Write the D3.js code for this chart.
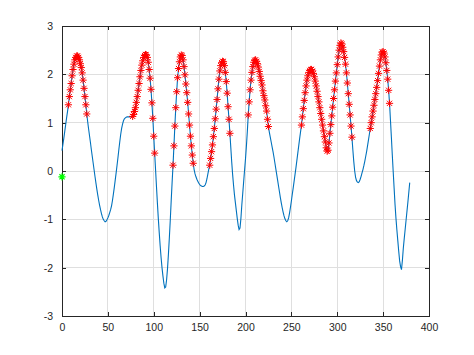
<!DOCTYPE html>
<html>
<head>
<meta charset="utf-8">
<script src="https://cdn.jsdelivr.net/npm/d3@7"></script>
<style>
  html, body { margin: 0; padding: 0; background: #ffffff; }
  svg { display: block; }
</style>
</head>
<body>
<div id="chart"></div>
<script>
// ---- data (sample index = x) ----
const signal = [
  0.42, 0.55, 0.68, 0.82, 0.96, 1.10, 1.23, 1.37, 1.54, 1.68,
  1.81, 1.97, 2.10, 2.21, 2.30, 2.35, 2.38, 2.38, 2.35, 2.30,
  2.22, 2.14, 2.03, 1.88, 1.71, 1.54, 1.37, 1.18, 1.02, 0.87,
  0.73, 0.59, 0.44, 0.30, 0.16, 0.02, -0.12, -0.25, -0.38, -0.50,
  -0.61, -0.71, -0.80, -0.88, -0.95, -1.00, -1.03, -1.05, -1.04, -1.01,
  -0.97, -0.92, -0.86, -0.80, -0.72, -0.61, -0.48, -0.34, -0.19, -0.04,
  0.12, 0.28, 0.45, 0.61, 0.76, 0.88, 0.97, 1.04, 1.08, 1.10,
  1.11, 1.12, 1.12, 1.12, 1.12, 1.12, 1.12, 1.13, 1.17, 1.23,
  1.31, 1.42, 1.54, 1.67, 1.81, 1.95, 2.08, 2.19, 2.28, 2.35,
  2.39, 2.41, 2.40, 2.35, 2.25, 2.10, 1.92, 1.69, 1.41, 1.09,
  0.72, 0.37, 0.02, -0.33, -0.67, -0.99, -1.28, -1.55, -1.79, -2.00,
  -2.17, -2.32, -2.42, -2.40, -2.25, -2.02, -1.72, -1.38, -1.02, -0.62,
  -0.24, 0.12, 0.52, 0.93, 1.31, 1.64, 1.93, 2.12, 2.26, 2.36,
  2.40, 2.39, 2.30, 2.16, 1.99, 1.80, 1.62, 1.42, 1.18, 0.95,
  0.72, 0.52, 0.33, 0.16, 0.03, -0.06, -0.12, -0.17, -0.21, -0.25,
  -0.28, -0.30, -0.31, -0.32, -0.32, -0.31, -0.29, -0.24, -0.16, -0.06,
  0.04, 0.12, 0.26, 0.40, 0.54, 0.71, 0.88, 1.08, 1.28, 1.48,
  1.70, 1.90, 2.07, 2.18, 2.24, 2.27, 2.26, 2.18, 2.04, 1.85,
  1.61, 1.33, 1.07, 0.78, 0.48, 0.18, -0.08, -0.30, -0.50, -0.66,
  -0.82, -0.98, -1.12, -1.21, -1.18, -0.98, -0.70, -0.46, -0.22, 0.02,
  0.25, 0.52, 0.82, 1.16, 1.43, 1.68, 1.88, 2.04, 2.16, 2.25,
  2.29, 2.30, 2.27, 2.22, 2.15, 2.06, 1.96, 1.87, 1.78, 1.66,
  1.56, 1.47, 1.35, 1.24, 1.07, 0.92, 0.80, 0.70, 0.60, 0.50,
  0.40, 0.29, 0.17, 0.05, -0.07, -0.19, -0.31, -0.43, -0.55, -0.66,
  -0.76, -0.85, -0.93, -0.99, -1.03, -1.05, -1.03, -0.97, -0.87, -0.75,
  -0.62, -0.48, -0.35, -0.21, -0.07, 0.07, 0.22, 0.37, 0.52, 0.67,
  0.81, 0.95, 1.12, 1.29, 1.46, 1.62, 1.76, 1.88, 1.97, 2.04,
  2.08, 2.10, 2.10, 2.07, 2.02, 1.95, 1.86, 1.76, 1.65, 1.54,
  1.43, 1.31, 1.19, 1.07, 0.95, 0.83, 0.71, 0.60, 0.48, 0.41,
  0.43, 0.58, 0.78, 0.96, 1.14, 1.32, 1.50, 1.68, 1.86, 2.03,
  2.20, 2.36, 2.50, 2.60, 2.65, 2.63, 2.56, 2.47, 2.35, 2.21,
  2.03, 1.82, 1.60, 1.38, 1.16, 0.93, 0.70, 0.44, 0.20, 0.00,
  -0.13, -0.20, -0.23, -0.24, -0.22, -0.17, -0.11, -0.04, 0.03, 0.11,
  0.20, 0.30, 0.40, 0.52, 0.64, 0.76, 0.88, 1.00, 1.12, 1.24,
  1.36, 1.48, 1.60, 1.73, 1.87, 2.02, 2.17, 2.30, 2.40, 2.46,
  2.47, 2.44, 2.36, 2.24, 2.08, 1.90, 1.67, 1.40, 1.05, 0.70,
  0.33, -0.02, -0.36, -0.70, -0.98, -1.22, -1.44, -1.66, -1.86, -1.98,
  -2.04, -1.85, -1.60, -1.40, -1.21, -1.02, -0.83, -0.64, -0.44, -0.24
];
// index ranges [start, end] of the samples marked with red asterisks
const markedRanges = [[7, 27], [77, 101], [121, 143], [161, 183], [203, 225], [261, 316], [336, 357]];
// single green marker
const greenPoint = [0, -0.12];

const xTicks = [0, 50, 100, 150, 200, 250, 300, 350, 400];
const yTicks = [-3, -2, -1, 0, 1, 2, 3];
const xDomain = [0, 400];
const yDomain = [-3, 3];

// ---- layout ----
const W = 474, H = 355;
const margin = { left: 62, right: 45, top: 26, bottom: 39 };
const iw = W - margin.left - margin.right;
const ih = H - margin.top - margin.bottom;

const svg = d3.select("#chart").append("svg")
  .attr("width", W).attr("height", H)
  .style("font-family", "Liberation Sans, Arial, Helvetica, sans-serif");

svg.append("rect").attr("width", W).attr("height", H).attr("fill", "#ffffff");

const g = svg.append("g").attr("transform", `translate(${margin.left},${margin.top})`);

const x = d3.scaleLinear().domain(xDomain).range([0, iw]);
const y = d3.scaleLinear().domain(yDomain).range([ih, 0]);

// grid
g.append("g").selectAll("line").data(xTicks.slice(1, -1)).join("line")
  .attr("x1", d => x(d)).attr("x2", d => x(d))
  .attr("y1", 0).attr("y2", ih)
  .attr("stroke", "#dfdfdf").attr("stroke-width", 1).attr("shape-rendering", "crispEdges");
g.append("g").selectAll("line").data(yTicks.slice(1, -1)).join("line")
  .attr("y1", d => y(d)).attr("y2", d => y(d))
  .attr("x1", 0).attr("x2", iw)
  .attr("stroke", "#dfdfdf").attr("stroke-width", 1).attr("shape-rendering", "crispEdges");

// axes (MATLAB-style, ticks inward, box)
const axisColor = "#262626";
function styleAxis(sel, hideText) {
  sel.select(".domain").attr("stroke", axisColor).attr("stroke-width", 1).attr("shape-rendering", "crispEdges");
  sel.selectAll(".tick line").attr("stroke", axisColor).attr("shape-rendering", "crispEdges");
  sel.selectAll(".tick text").attr("fill", axisColor).style("font-size", "10.5px");
  if (hideText) sel.selectAll(".tick text").remove();
}
const xb = g.append("g").attr("transform", `translate(0,${ih})`)
  .call(d3.axisBottom(x).tickValues(xTicks).tickSizeInner(-4).tickSizeOuter(0).tickPadding(8).tickFormat(d3.format("d")));
styleAxis(xb, false);
const xt = g.append("g")
  .call(d3.axisTop(x).tickValues(xTicks).tickSizeInner(-4).tickSizeOuter(0));
styleAxis(xt, true);
const yl = g.append("g")
  .call(d3.axisLeft(y).tickValues(yTicks).tickSizeInner(-4).tickSizeOuter(0).tickPadding(9).tickFormat(d3.format("d")));
styleAxis(yl, false);
const yr = g.append("g").attr("transform", `translate(${iw},0)`)
  .call(d3.axisRight(y).tickValues(yTicks).tickSizeInner(-4).tickSizeOuter(0));
styleAxis(yr, true);
yl.selectAll(".tick text").text(d => d < 0 ? "-" + Math.abs(d) : d);

// signal line
const line = d3.line().x((d, i) => x(i)).y(d => y(d));
g.append("path").datum(signal)
  .attr("fill", "none").attr("stroke", "#0072BD").attr("stroke-width", 1.1)
  .attr("d", line);

// asterisk marker
function asterisk(r) {
  const d = r * 0.72;
  return `M${-r},0L${r},0M0,${-r}L0,${r}M${-d},${-d}L${d},${d}M${-d},${d}L${d},${-d}`;
}
const marked = [];
markedRanges.forEach(([a, b]) => { for (let i = a; i <= b; i++) marked.push(i); });

g.append("g").selectAll("path").data(marked).join("path")
  .attr("transform", i => `translate(${x(i)},${y(signal[i])})`)
  .attr("d", asterisk(3.6))
  .attr("fill", "none").attr("stroke", "#ff0000").attr("stroke-width", 1);

g.append("path")
  .attr("transform", `translate(${x(greenPoint[0])},${y(greenPoint[1])})`)
  .attr("d", asterisk(3.6))
  .attr("fill", "none").attr("stroke", "#00ff00").attr("stroke-width", 1.2);
</script>
</body>
</html>
